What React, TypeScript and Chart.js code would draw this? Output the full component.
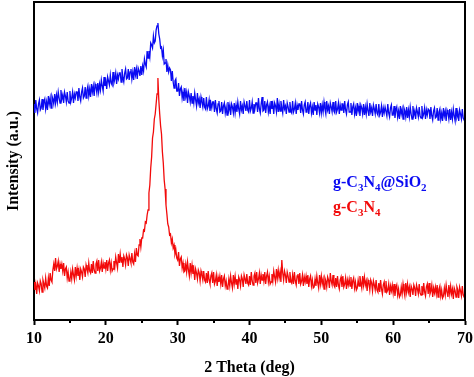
import React, { useEffect, useRef } from "react";
import { Chart, registerables } from "chart.js";

Chart.register(...registerables);

// 2θ sampling: start 10°, step 0.125°, 481 samples (10° … 70°)
const thetaStart = 10;
const thetaStep = 0.125;

const xTicks = [10, 20, 30, 40, 50, 60, 70];
const xMinorTicks = [15, 25, 35, 45, 55, 65];

const seriesNames = ["g-C3N4@SiO2", "g-C3N4"];

// g-C3N4@SiO2 (offset trace, arbitrary units)
const compositeIntensity = [
  216, 207, 220, 211, 207, 216, 220, 210, // 10
  212, 221, 210, 218, 221, 211, 218, 210, // 11
  224, 216, 222, 212, 224, 221, 216, 226, // 12
  217, 225, 218, 228, 222, 217, 230, 221, // 13
  225, 217, 228, 224, 218, 228, 219, 217, // 14
  229, 218, 222, 228, 217, 226, 222, 228, // 15
  228, 219, 232, 223, 219, 228, 232, 222, // 16
  224, 233, 222, 230, 234, 224, 231, 223, // 17
  236, 228, 234, 224, 236, 233, 227, 237, // 18
  228, 236, 230, 240, 234, 229, 243, 234, // 19
  239, 231, 243, 239, 235, 245, 237, 235, // 20
  248, 237, 241, 247, 236, 245, 241, 247, // 21
  247, 238, 251, 242, 238, 247, 251, 241, // 22
  242, 251, 240, 248, 251, 241, 248, 240, // 23
  253, 245, 251, 241, 252, 249, 244, 254, // 24
  245, 254, 249, 261, 256, 253, 269, 262, // 25
  269, 263, 277, 275, 272, 284, 277, 279, // 26
  290, 294, 297, 286, 281, 272, 273, 264, // 27
  270, 256, 257, 261, 248, 255, 248, 252, // 28
  250, 239, 249, 238, 232, 239, 241, 229, // 29
  229, 237, 224, 231, 233, 222, 228, 219, // 30
  232, 223, 228, 217, 228, 224, 218, 227, // 31
  217, 224, 217, 227, 220, 214, 227, 217, // 32
  221, 212, 223, 218, 213, 222, 213, 211, // 33
  223, 211, 214, 220, 209, 217, 212, 218, // 34
  218, 208, 220, 211, 207, 216, 219, 208, // 35
  209, 218, 206, 214, 217, 207, 213, 205, // 36
  218, 210, 215, 205, 216, 213, 207, 217, // 37
  207, 215, 208, 218, 211, 206, 219, 210, // 38
  214, 206, 218, 214, 209, 219, 210, 208, // 39
  220, 209, 212, 218, 207, 216, 211, 217, // 40
  217, 208, 222, 211, 207, 216, 223, 209, // 41
  210, 219, 207, 215, 218, 208, 214, 206, // 42
  219, 211, 216, 206, 217, 214, 208, 222, // 43
  208, 216, 209, 219, 212, 207, 220, 211, // 44
  214, 206, 217, 213, 208, 218, 209, 207, // 45
  219, 208, 211, 217, 206, 215, 210, 216, // 46
  216, 207, 219, 210, 206, 215, 218, 208, // 47
  209, 218, 206, 214, 217, 207, 213, 205, // 48
  218, 210, 215, 205, 216, 213, 207, 217, // 49
  207, 215, 208, 218, 211, 206, 219, 210, // 50
  214, 206, 217, 213, 208, 218, 209, 207, // 51
  219, 208, 211, 217, 206, 215, 210, 216, // 52
  216, 207, 219, 210, 206, 215, 218, 208, // 53
  208, 217, 205, 213, 216, 206, 212, 204, // 54
  217, 209, 214, 204, 215, 212, 206, 216, // 55
  205, 213, 206, 216, 209, 204, 217, 208, // 56
  212, 204, 215, 211, 206, 216, 207, 205, // 57
  216, 205, 208, 214, 203, 212, 207, 213, // 58
  213, 204, 216, 207, 203, 212, 215, 205, // 59
  205, 214, 202, 210, 213, 203, 209, 201, // 60
  214, 206, 211, 201, 212, 209, 203, 213, // 61
  202, 210, 203, 213, 206, 201, 214, 205, // 62
  209, 201, 212, 208, 203, 213, 204, 202, // 63
  214, 203, 206, 212, 201, 210, 205, 211, // 64
  210, 201, 213, 204, 200, 209, 212, 202, // 65
  203, 212, 200, 208, 211, 201, 207, 199, // 66
  212, 204, 209, 199, 210, 207, 201, 211, // 67
  200, 208, 201, 211, 204, 199, 212, 203, // 68
  207, 199, 210, 206, 201, 211, 202, 200, // 69
  204, // 70
];

// g-C3N4
const bulkIntensity = [
  38, 30, 36, 26, 37, 34, 29, 39, // 10
  36, 28, 40, 36, 32, 42, 34, 32, // 11
  42, 34, 47, 40, 38, 50, 56, 49, // 12
  62, 51, 54, 59, 48, 56, 51, 56, // 13
  49, 57, 44, 51, 53, 42, 48, 39, // 14
  40, 48, 41, 51, 45, 40, 53, 44, // 15
  52, 44, 50, 40, 51, 48, 43, 53, // 16
  51, 43, 55, 51, 47, 57, 49, 47, // 17
  56, 47, 59, 50, 47, 56, 59, 49, // 18
  60, 49, 52, 58, 48, 57, 52, 58, // 19
  51, 60, 49, 57, 60, 50, 57, 49, // 20
  51, 59, 53, 63, 57, 52, 66, 57, // 21
  66, 58, 63, 53, 64, 61, 55, 65, // 22
  62, 54, 65, 61, 57, 67, 58, 56, // 23
  66, 58, 72, 65, 64, 75, 81, 73, // 24
  82, 82, 90, 89, 98, 97, 105, 110, // 25
  127, 135, 152, 163, 182, 188, 201, 206, // 26
  216, 226, 242, 220, 206, 194, 186, 168, // 27
  157, 140, 131, 115, 106, 96, 93, 85, // 28
  86, 77, 81, 72, 75, 66, 70, 62, // 29
  60, 68, 54, 61, 63, 52, 57, 48, // 30
  49, 56, 48, 58, 50, 44, 57, 47, // 31
  55, 46, 51, 40, 51, 47, 41, 50, // 32
  47, 39, 49, 45, 40, 49, 40, 38, // 33
  47, 37, 49, 40, 36, 44, 47, 37, // 34
  48, 36, 39, 45, 34, 43, 38, 44, // 35
  36, 45, 33, 41, 44, 34, 39, 31, // 36
  33, 41, 34, 44, 37, 32, 45, 36, // 37
  44, 36, 41, 31, 43, 40, 34, 44, // 38
  41, 33, 45, 41, 36, 46, 37, 35, // 39
  44, 35, 48, 39, 35, 44, 47, 37, // 40
  48, 37, 41, 47, 36, 45, 40, 46, // 41
  39, 48, 36, 44, 48, 38, 44, 36, // 42
  38, 46, 39, 49, 43, 38, 51, 42, // 43
  50, 42, 48, 38, 60, 47, 40, 49, // 44
  45, 37, 48, 44, 38, 48, 39, 37, // 45
  45, 36, 48, 39, 35, 44, 46, 36, // 46
  47, 36, 39, 45, 34, 43, 38, 44, // 47
  36, 45, 33, 41, 44, 34, 40, 32, // 48
  33, 41, 34, 44, 37, 32, 45, 36, // 49
  44, 36, 41, 31, 42, 39, 33, 43, // 50
  40, 32, 47, 39, 35, 45, 35, 33, // 51
  42, 33, 44, 35, 31, 40, 43, 33, // 52
  44, 33, 36, 42, 31, 40, 35, 41, // 53
  34, 43, 31, 39, 42, 32, 38, 30, // 54
  32, 40, 34, 44, 37, 32, 44, 35, // 55
  43, 35, 39, 29, 40, 37, 30, 40, // 56
  37, 29, 39, 35, 30, 40, 30, 28, // 57
  37, 28, 40, 31, 26, 35, 38, 28, // 58
  39, 28, 30, 36, 25, 34, 29, 35, // 59
  27, 36, 24, 32, 35, 25, 31, 23, // 60
  25, 33, 26, 36, 29, 24, 37, 28, // 61
  36, 28, 33, 23, 34, 31, 25, 35, // 62
  32, 24, 35, 31, 26, 36, 27, 25, // 63
  34, 25, 37, 28, 24, 33, 36, 26, // 64
  37, 26, 29, 35, 23, 32, 27, 33, // 65
  26, 35, 23, 31, 34, 24, 30, 22, // 66
  24, 32, 25, 35, 28, 23, 35, 26, // 67
  34, 26, 31, 21, 32, 29, 23, 33, // 68
  30, 22, 33, 29, 24, 34, 25, 23, // 69
  29, // 70
];

const toPoints = (vals: number[]) =>
  vals.map((v, i) => ({ x: thetaStart + i * thetaStep, y: v }));

const SERIF = "'Liberation Serif', 'Times New Roman', serif";
const BLUE = "#0a0af2";
const RED = "#f20a0a";

const framePlugin = {
  id: "frame",
  afterDraw(chart: any) {
    const { ctx, chartArea, scales } = chart;
    const xs = scales.x;
    ctx.save();
    ctx.strokeStyle = "#000";
    ctx.lineWidth = 2;
    ctx.beginPath();
    ctx.moveTo(chartArea.left - 1, chartArea.top);
    ctx.lineTo(chartArea.right, chartArea.top);
    ctx.lineTo(chartArea.right, chartArea.bottom + 1);
    ctx.stroke();
    // minor ticks
    ctx.beginPath();
    for (const v of xMinorTicks) {
      const px = Math.round(xs.getPixelForValue(v));
      ctx.moveTo(px, chartArea.bottom);
      ctx.lineTo(px, chartArea.bottom + 3);
    }
    ctx.stroke();
    // legend text with subscripts
    const drawFormula = (
      parts: { t: string; sub?: boolean }[],
      x: number,
      y: number,
      color: string
    ) => {
      ctx.fillStyle = color;
      ctx.textBaseline = "alphabetic";
      ctx.textAlign = "left";
      let cx = x;
      for (const p of parts) {
        ctx.font = p.sub ? `bold 11px ${SERIF}` : `bold 16px ${SERIF}`;
        ctx.fillText(p.t, cx, p.sub ? y + 4 : y);
        cx += ctx.measureText(p.t).width;
      }
    };
    drawFormula(
      [
        { t: "g-C" },
        { t: "3", sub: true },
        { t: "N" },
        { t: "4", sub: true },
        { t: "@SiO" },
        { t: "2", sub: true },
      ],
      333,
      187,
      BLUE
    );
    drawFormula(
      [{ t: "g-C" }, { t: "3", sub: true }, { t: "N" }, { t: "4", sub: true }],
      333,
      212,
      RED
    );
    ctx.restore();
  },
};

export default function App() {
  const canvasRef = useRef<HTMLCanvasElement | null>(null);

  useEffect(() => {
    document.body.style.margin = "0";
    const canvas = canvasRef.current;
    if (!canvas) return;
    const chart = new Chart(canvas, {
      type: "line",
      data: {
        datasets: [
          {
            label: seriesNames[0],
            data: toPoints(compositeIntensity),
            borderColor: BLUE,
            borderWidth: 1.3,
            pointRadius: 0,
            tension: 0,
          },
          {
            label: seriesNames[1],
            data: toPoints(bulkIntensity),
            borderColor: RED,
            borderWidth: 1.3,
            pointRadius: 0,
            tension: 0,
          },
        ],
      },
      options: {
        responsive: false,
        animation: false,
        layout: { padding: { top: 2, right: 9, left: 0, bottom: 0 } },
        plugins: {
          legend: { display: false },
          tooltip: { enabled: false },
        },
        scales: {
          x: {
            type: "linear",
            min: 10,
            max: 70,
            afterFit: (s: any) => {
              s.height = 57;
              s.paddingLeft = 0;
              s.paddingRight = 0;
            },
            afterBuildTicks: (s: any) => {
              s.ticks = xTicks.map((v) => ({ value: v }));
            },
            ticks: {
              color: "#000",
              font: { family: SERIF, size: 16, weight: "bold" },
              padding: 4,
              maxRotation: 0,
            },
            grid: {
              display: true,
              drawOnChartArea: false,
              drawTicks: true,
              tickLength: 5,
              tickWidth: 2,
              tickColor: "#000",
            },
            border: { display: true, color: "#000", width: 2 },
            title: {
              display: true,
              text: "2 Theta (deg)",
              color: "#000",
              font: { family: SERIF, size: 16, weight: "bold" },
              padding: { top: 0, bottom: 0 },
            },
          },
          y: {
            type: "linear",
            min: 0,
            max: 318,
            afterFit: (s: any) => {
              s.width = 34;
            },
            ticks: { display: false },
            grid: { display: false },
            border: { display: true, color: "#000", width: 2 },
            title: {
              display: true,
              text: "Intensity (a.u.)",
              color: "#000",
              font: { family: SERIF, size: 16, weight: "bold" },
              padding: { top: 4, bottom: 0 },
            },
          },
        },
      },
      plugins: [framePlugin],
    } as any);
    return () => chart.destroy();
  }, []);

  return (
    <div style={{ width: 474, height: 377, background: "#fff" }}>
      <canvas ref={canvasRef} width={474} height={377} />
    </div>
  );
}
